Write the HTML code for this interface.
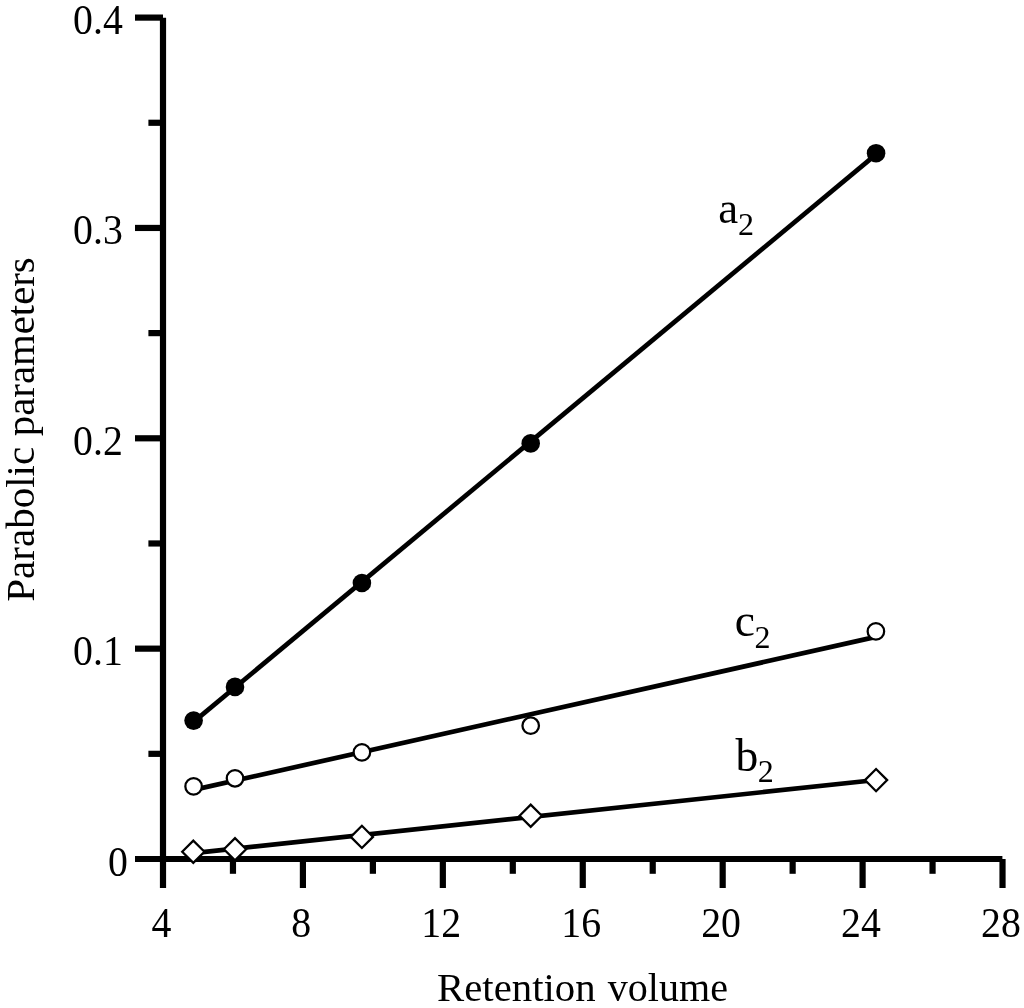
<!DOCTYPE html>
<html lang="en"><head><meta charset="utf-8"><title>Parabolic parameters vs retention volume</title>
<style>
html,body{margin:0;padding:0;background:#fff;}
body{width:1024px;height:1008px;overflow:hidden;}
svg{display:block;}
text{font-family:"Liberation Serif","Times New Roman",serif;fill:#000;}
</style></head><body>
<svg width="1024" height="1008" viewBox="0 0 1024 1008">
<rect width="1024" height="1008" fill="#fff"/>

<g stroke="#000" stroke-width="6.2" fill="none" stroke-linecap="butt">
<line x1="163.0" y1="17.75" x2="163.0" y2="888"/>
<line x1="135" y1="859.0" x2="1002.4" y2="859.0"/>
<line x1="148.4" y1="753.83" x2="163.0" y2="753.83"/>
<line x1="135" y1="648.65" x2="163.0" y2="648.65"/>
<line x1="148.4" y1="543.47" x2="163.0" y2="543.47"/>
<line x1="135" y1="438.30" x2="163.0" y2="438.30"/>
<line x1="148.4" y1="333.12" x2="163.0" y2="333.12"/>
<line x1="135" y1="227.95" x2="163.0" y2="227.95"/>
<line x1="148.4" y1="122.77" x2="163.0" y2="122.77"/>
<line x1="135" y1="17.60" x2="163.0" y2="17.60"/>
<line x1="232.96" y1="859.0" x2="232.96" y2="873.8"/>
<line x1="302.92" y1="859.0" x2="302.92" y2="888"/>
<line x1="372.88" y1="859.0" x2="372.88" y2="873.8"/>
<line x1="442.84" y1="859.0" x2="442.84" y2="888"/>
<line x1="512.80" y1="859.0" x2="512.80" y2="873.8"/>
<line x1="582.76" y1="859.0" x2="582.76" y2="888"/>
<line x1="652.72" y1="859.0" x2="652.72" y2="873.8"/>
<line x1="722.68" y1="859.0" x2="722.68" y2="888"/>
<line x1="792.64" y1="859.0" x2="792.64" y2="873.8"/>
<line x1="862.60" y1="859.0" x2="862.60" y2="888"/>
<line x1="932.56" y1="859.0" x2="932.56" y2="873.8"/>
<line x1="1002.52" y1="859.0" x2="1002.52" y2="888"/>
</g>
<g stroke="#000" stroke-width="4.7" stroke-linecap="butt">
<line x1="193.6" y1="721.86" x2="876.07" y2="154.35"/>
<line x1="193.6" y1="789.9" x2="875.9" y2="636.9"/>
<line x1="193.3" y1="853.1" x2="876.07" y2="780.0"/>
</g>
<g fill="#000">
<circle cx="193.6" cy="720.6" r="9.3"/>
<circle cx="235" cy="686.9" r="9.3"/>
<circle cx="361.9" cy="583" r="9.3"/>
<circle cx="530.7" cy="443.4" r="9.3"/>
<circle cx="876.07" cy="153.2" r="9.3"/>
</g>
<g fill="#fff" stroke="#000" stroke-width="2.25">
<circle cx="193.6" cy="786.4" r="8.25"/>
<circle cx="235" cy="778.3" r="8.25"/>
<circle cx="361.9" cy="752.4" r="8.25"/>
<circle cx="530.7" cy="725.7" r="8.25"/>
<circle cx="875.9" cy="631.4" r="8.25"/>
<path d="M182.20000000000002 851.7L193.3 840.6L204.4 851.7L193.3 862.8000000000001Z"/>
<path d="M223.9 849.3L235 838.1999999999999L246.1 849.3L235 860.4Z"/>
<path d="M350.79999999999995 836.9L361.9 825.8L373.0 836.9L361.9 848.0Z"/>
<path d="M519.6 815.7L530.7 804.6L541.8000000000001 815.7L530.7 826.8000000000001Z"/>
<path d="M864.97 780.1L876.07 769.0L887.1700000000001 780.1L876.07 791.2Z"/>
</g>
<text transform="translate(73.1 33.8) scale(0.995 1.06)" font-size="40" text-anchor="start">0.4</text>
<text transform="translate(73.1 244.15) scale(0.995 1.06)" font-size="40" text-anchor="start">0.3</text>
<text transform="translate(73.1 454.5) scale(0.995 1.06)" font-size="40" text-anchor="start">0.2</text>
<text transform="translate(73.1 664.85) scale(0.995 1.06)" font-size="40" text-anchor="start">0.1</text>
<text transform="translate(128 875.6) scale(0.995 1.06)" font-size="40" text-anchor="end">0</text>
<text transform="translate(161.4 936.6) scale(0.995 1.06)" font-size="40" text-anchor="middle">4</text>
<text transform="translate(301.32 936.6) scale(0.995 1.06)" font-size="40" text-anchor="middle">8</text>
<text transform="translate(441.24 936.6) scale(0.995 1.06)" font-size="40" text-anchor="middle">12</text>
<text transform="translate(581.16 936.6) scale(0.995 1.06)" font-size="40" text-anchor="middle">16</text>
<text transform="translate(721.08 936.6) scale(0.995 1.06)" font-size="40" text-anchor="middle">20</text>
<text transform="translate(861.0 936.6) scale(0.995 1.06)" font-size="40" text-anchor="middle">24</text>
<text transform="translate(1000.92 936.6) scale(0.995 1.06)" font-size="40" text-anchor="middle">28</text>
<text transform="translate(437.0 1001.3) scale(1.02 1.025)" font-size="40" text-anchor="start">Retention</text>
<text transform="translate(607.8 1001.3) scale(1.002 1.025)" font-size="40" text-anchor="start">volume</text>
<text transform="translate(33.9 601.7) rotate(-90) scale(1.025 1.015)" font-size="40" text-anchor="start">Parabolic</text>
<text transform="translate(33.9 436.2) rotate(-90) scale(1.02 1.015)" font-size="40" text-anchor="start">parameters</text>
<text x="718.3" y="223.1" font-size="44.8">a<tspan font-size="32" dy="11.6" dx="-0.1">2</tspan></text>
<text x="734.7" y="636.3" font-size="45.5">c<tspan font-size="32" dy="11.6" dx="-0.3">2</tspan></text>
<text x="735.5" y="770.5" font-size="45.5">b<tspan font-size="32" dy="11.6" dx="-0.6">2</tspan></text>
</svg></body></html>
